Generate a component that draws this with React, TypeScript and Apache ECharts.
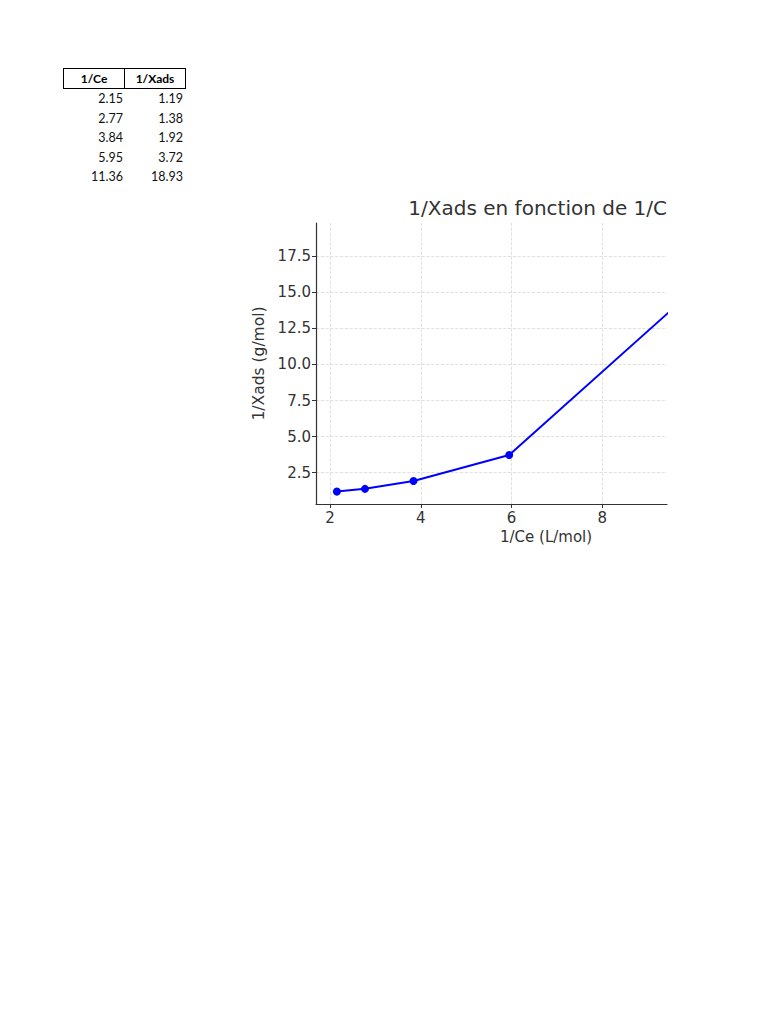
import * as echarts from 'echarts';
import React, { useEffect, useRef } from 'react';

// values from the sheet / plot
const ce = [2.15, 2.77, 3.84, 5.95, 11.36];
const xads = [1.19, 1.38, 1.92, 3.72, 18.93];
const headers = ['1/Ce', '1/Xads'];
const xTicks = [2, 4, 6, 8];
const yTicks = [2.5, 5, 7.5, 10, 12.5, 15, 17.5];
const xRange = [1.69, 9.43]; // visible (cropped) view
const yRange = [0.33, 19.8];

const font = 'DejaVu Sans';

const Table: React.FC = () => {
  const cell: React.CSSProperties = {
    position: 'absolute',
    width: 61,
    textAlign: 'right',
    fontFamily: 'Lato',
    fontSize: 12.5,
    lineHeight: '19.5px',
    color: '#111',
  };
  return (
    <>
      <div
        style={{
          position: 'absolute',
          left: 63,
          top: 68,
          width: 121,
          height: 19,
          border: '1px solid #000',
          display: 'flex',
          fontFamily: 'Lato',
          fontWeight: 'bold',
          fontSize: 12,
          lineHeight: '19px',
        }}
      >
        <div style={{ width: 60, textAlign: 'center', borderRight: '1px solid #000' }}>{headers[0]}</div>
        <div style={{ flex: 1, textAlign: 'center' }}>{headers[1]}</div>
      </div>
      {ce.map((v, i) => (
        <React.Fragment key={i}>
          <div style={{ ...cell, left: 62, top: 89 + i * 19.6 }}>{v.toFixed(2)}</div>
          <div style={{ ...cell, left: 122, top: 89 + i * 19.6 }}>{xads[i].toFixed(2)}</div>
        </React.Fragment>
      ))}
    </>
  );
};

const Chart: React.FC = () => {
  const chartRef = useRef<HTMLDivElement>(null);

  useEffect(() => {
    const myChart = echarts.init(chartRef.current!, null, { renderer: 'svg' });

    const axisLine = { show: true, lineStyle: { color: '#333', width: 1.2 } };
    const splitLine = {
      show: true,
      lineStyle: { color: '#d8d8d8', type: 'dashed', width: 0.8 },
    };

    const option = {
      animation: false,
      title: {
        text: '1/Xads en fonction de 1/C',
        right: 8,
        top: 3,
        textStyle: { fontFamily: font, fontSize: 20, fontWeight: 'normal', color: '#333' },
      },
      grid: { left: 76, top: 33, width: 351, height: 281, containLabel: false },
      xAxis: {
        type: 'value',
        min: xRange[0],
        max: xRange[1],
        axisLine,
        axisTick: { show: true, length: 4, customValues: xTicks, lineStyle: { color: '#333' } },
        axisLabel: {
          customValues: xTicks,
          margin: 6,
          fontFamily: font,
          fontSize: 15,
          color: '#333',
        },
        splitLine,
      },
      yAxis: {
        type: 'value',
        min: yRange[0],
        max: yRange[1],
        name: '1/Xads (g/mol)',
        nameLocation: 'middle',
        nameGap: 39,
        nameTextStyle: { fontFamily: font, fontSize: 15.5, color: '#333' },
        axisLine,
        axisTick: { show: true, length: 4, customValues: yTicks, lineStyle: { color: '#333' } },
        axisLabel: {
          customValues: yTicks,
          margin: 5,
          fontFamily: font,
          fontSize: 15,
          color: '#333',
          formatter: (v: number) => v.toFixed(1),
        },
        splitLine,
      },
      graphic: [
        {
          type: 'text',
          left: 260,
          top: 339,
          style: { text: '1/Ce (L/mol)', fontFamily: font, fontSize: 15, fill: '#333' },
        },
      ],
      series: [
        {
          type: 'line',
          data: ce.map((x, i) => [x, xads[i]]),
          clip: true,
          symbol: 'circle',
          symbolSize: 8,
          itemStyle: { color: '#0000ff' },
          lineStyle: { color: '#0000ff', width: 2 },
        },
      ],
    };

    myChart.setOption(option);

    return () => {
      myChart.dispose();
    };
  }, []);

  return (
    <div
      ref={chartRef}
      style={{ position: 'absolute', left: 240, top: 190, width: 440, height: 370 }}
    />
  );
};

const App: React.FC = () => (
  <div style={{ position: 'absolute', left: 0, top: 0, width: 768, height: 1024, background: '#fff' }}>
    <Table />
    <Chart />
  </div>
);

export default App;
